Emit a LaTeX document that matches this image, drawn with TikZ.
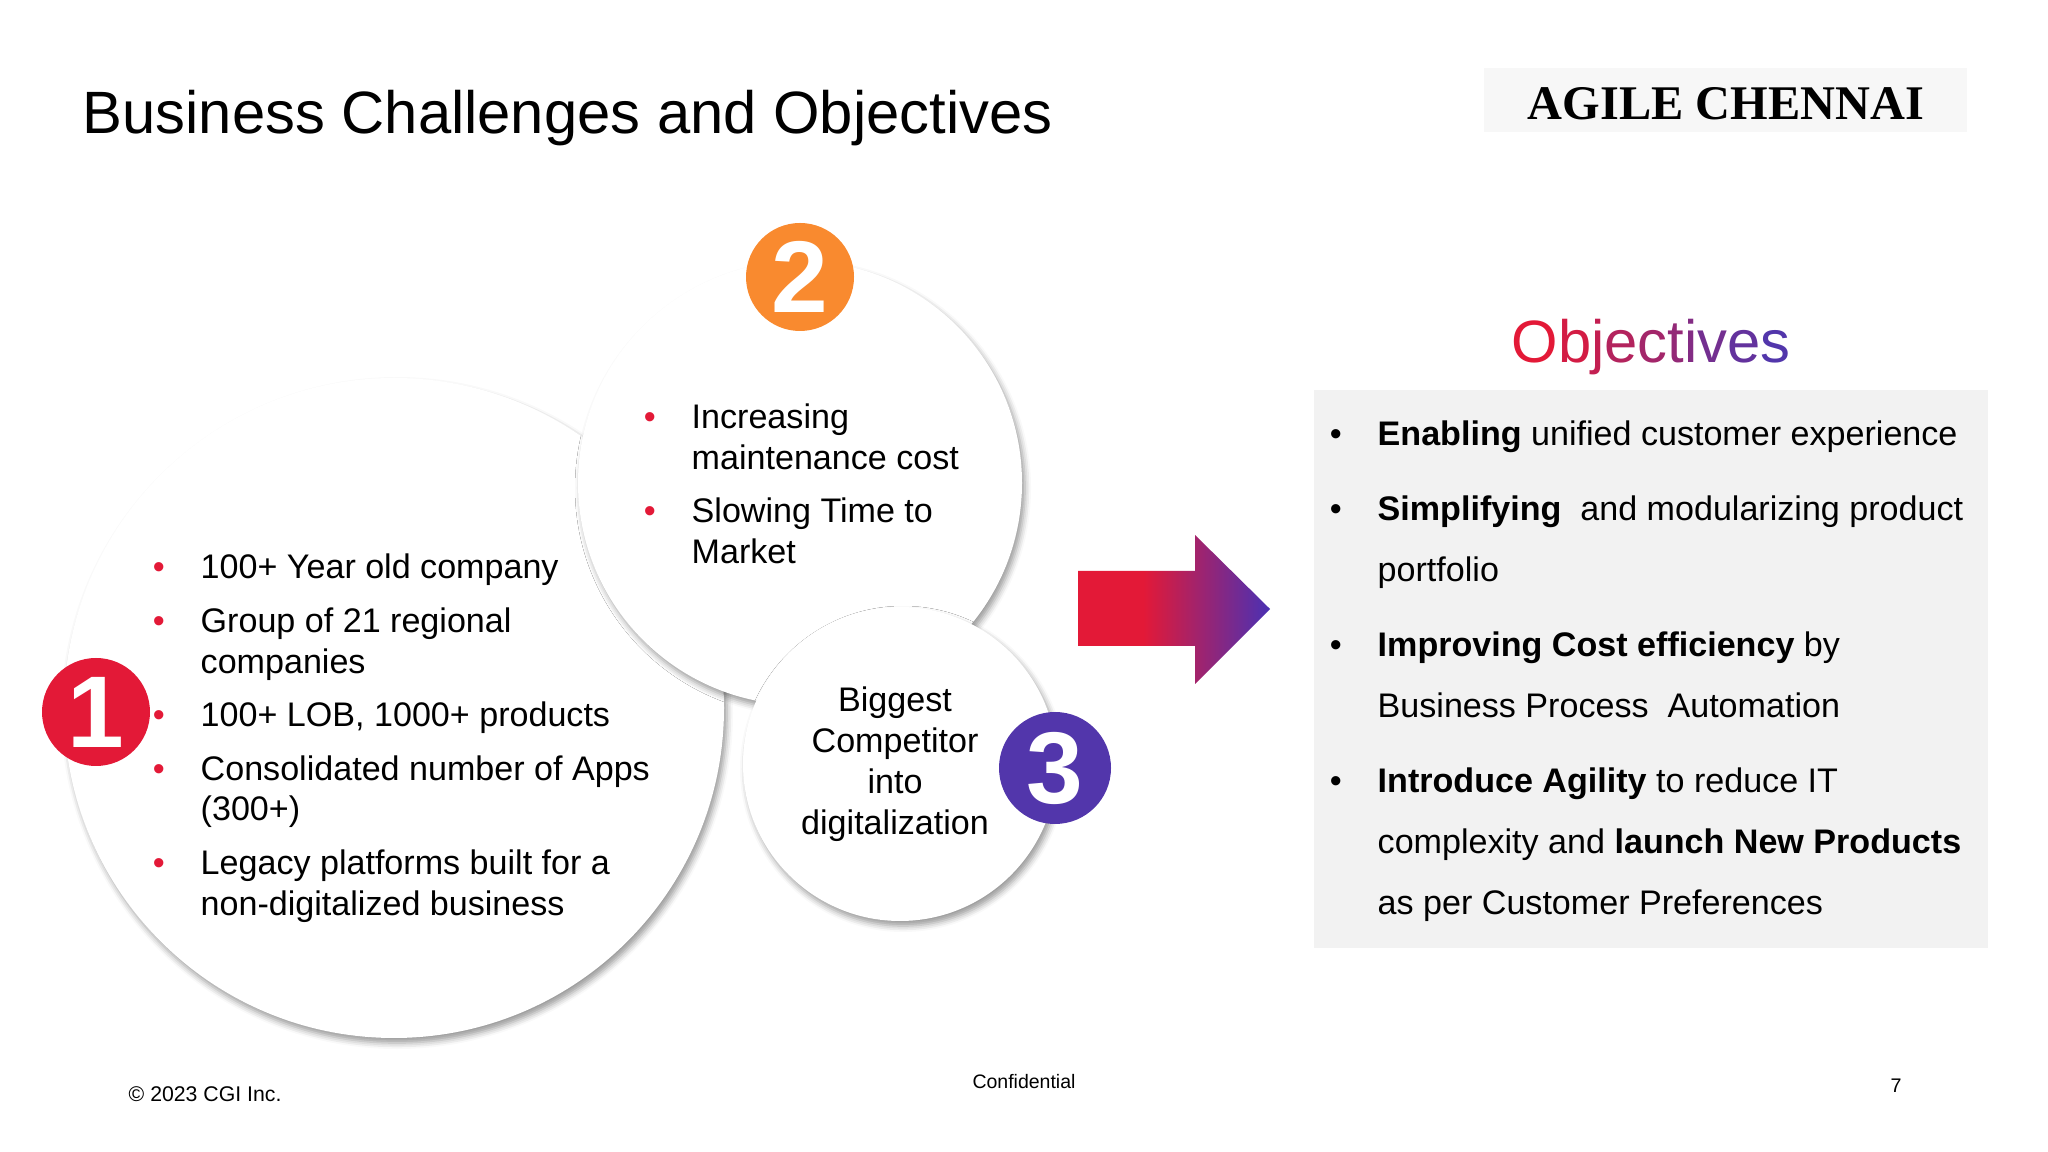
\documentclass[tikz,border=0pt]{standalone}
\usepackage{fontspec}
\setmainfont{Liberation Sans}
\newfontfamily\logofont{Liberation Serif}
\usetikzlibrary{positioning, shadows.blur}
\definecolor{cgiRed}{HTML}{E31937}
\definecolor{cgiOrange}{HTML}{F98A2F}
\definecolor{cgiPurple}{HTML}{5236AB}
\pgfdeclarehorizontalshading{ArrowFill}{100bp}{%
    color(0bp)=(cgiRed); color(42bp)=(cgiRed); color(75bp)=(cgiPurple!90!blue); color(100bp)=(cgiPurple!90!blue)%
}
\tikzset{Bubble/.style={%
    shape=circle,%
    fill=white,%
    inner sep=0pt,%
    blur shadow={shadow xshift=0.3mm, shadow yshift=-0.5mm, shadow blur radius=0.6mm, shadow opacity=40},%
}}
\tikzset{Badge/.style={%
    shape=circle,%
    minimum size=10.8mm,%
    inner sep=0pt,%
    text=white,%
    font=\fontsize{29pt}{29pt}\selectfont\bfseries,%
}}
\tikzset{ListText/.style={%
    inner sep=0pt,%
    align=left,%
    font=\fontsize{9.7pt}{11.66pt}\selectfont,%
}}
\tikzset{PanelText/.style={%
    ListText,%
    font=\fontsize{9.7pt}{17.36pt}\selectfont,%
}}
\NewDocumentCommand{\itemDot}{s}{%
    \strut\IfBooleanTF{#1}{%
        \llap{\textcolor{cgiRed}{•}\hspace{3.6mm}}%
    }{%
        \llap{•\hspace{3.6mm}}%
    }%
}
\NewDocumentCommand{\mixLetter}{m m}{\textcolor{cgiPurple!#1!cgiRed}{#2}}

\begin{document}
\begin{tikzpicture}[x=0.1mm, y=-0.1mm]
    \useasboundingbox (0,0) rectangle (2048,1152);

    \node[inner sep=0pt, anchor=base west, font=\fontsize{17pt}{20pt}\selectfont] (title) at (82,134) {Business Challenges and Objectives};
    \node[fill=black!3, minimum width=48.3mm, minimum height=6.4mm, inner sep=0pt] (logoBox) at (1725.5,100) {};
    \node[inner sep=0pt, anchor=base, font=\fontsize{13.75pt}{16pt}\selectfont\logofont\bfseries] (logo) at (1726,120) {AGILE CHENNAI};

    \node[Bubble, minimum size=66mm] (c1) at (394,708) {};
    \node[Bubble, minimum size=44.4mm] (c2) at (800,483) {};
    \node[Bubble, minimum size=31.4mm] (c3) at (900,764) {};

    \node[Badge, fill=cgiRed] (b1) at (96,712) {1};
    \node[Badge, fill=cgiOrange] (b2) at (800,277) {2};
    \node[Badge, fill=cgiPurple, minimum size=11.2mm] (b3) at (1055,768) {3};

    \node[ListText, anchor=north west] (t11) at (200,549.5) {\itemDot*100+ Year old company\strut};
    \node[ListText, below=1.1mm of t11.south west, anchor=north west] (t12) {\itemDot*Group of 21 regional\\companies\strut};
    \node[ListText, below=1.1mm of t12.south west, anchor=north west] (t13) {\itemDot*100+ LOB, 1000+ products\strut};
    \node[ListText, below=1.1mm of t13.south west, anchor=north west] (t14) {\itemDot*Consolidated number of Apps\\(300+)\strut};
    \node[ListText, below=1.1mm of t14.south west, anchor=north west] (t15) {\itemDot*Legacy platforms built for a\\non-digitalized business\strut};

    \node[ListText, anchor=north west] (t21) at (691,399) {\itemDot*Increasing\\maintenance cost\strut};
    \node[ListText, below=1.1mm of t21.south west, anchor=north west] (t22) {\itemDot*Slowing Time to\\Market\strut};

    \node[ListText, align=center] (t31) at (895,764) {Biggest\\Competitor\\into\\digitalization};

    \shade[shading=ArrowFill] (1078,571) -- (1195,571) -- (1195,535) -- (1270,609) -- (1195,684) -- (1195,646) -- (1078,646) -- cycle;

    \node[inner sep=0pt, anchor=base, font=\fontsize{17pt}{20pt}\selectfont] (objTitle) at (1651,363) {%
        \mixLetter{0}{O}\mixLetter{11}{b}\mixLetter{22}{j}\mixLetter{33}{e}\mixLetter{44}{c}%
        \mixLetter{55}{t}\mixLetter{66}{i}\mixLetter{77}{v}\mixLetter{88}{e}\mixLetter{100}{s}};
    \node[fill=black!5, minimum width=67.4mm, minimum height=55.8mm, inner sep=0pt] (panel) at (1651,669) {};

    \node[PanelText, anchor=north west] (p1) at (1377,402) {\itemDot\textbf{Enabling} unified customer experience\strut};
    \node[PanelText, below=1.25mm of p1.south west, anchor=north west] (p2) {\itemDot\textbf{Simplifying}\ \ and modularizing product\\portfolio\strut};
    \node[PanelText, below=1.25mm of p2.south west, anchor=north west] (p3) {\itemDot\textbf{Improving Cost efficiency} by\\Business Process\ \ Automation\strut};
    \node[PanelText, below=1.25mm of p3.south west, anchor=north west] (p4) {\itemDot\textbf{Introduce Agility} to reduce IT\\complexity and \textbf{launch New Products}\\as per Customer Preferences\strut};

    \node[inner sep=0pt, anchor=base west, font=\fontsize{6.05pt}{8pt}\selectfont] (copy) at (128,1102) {© 2023 CGI Inc.};
    \node[inner sep=0pt, anchor=base, font=\fontsize{5.55pt}{8pt}\selectfont] (conf) at (1024,1088) {Confidential};
    \node[inner sep=0pt, anchor=base, font=\fontsize{5.6pt}{8pt}\selectfont] (page) at (1896,1093) {7};
\end{tikzpicture}
\end{document}
